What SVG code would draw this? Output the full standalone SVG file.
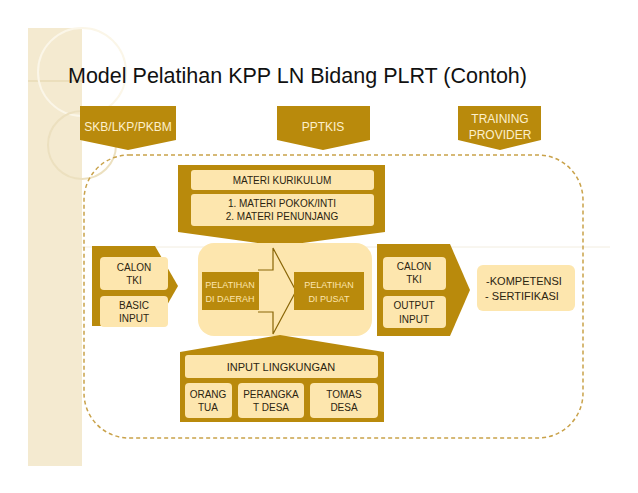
<svg xmlns="http://www.w3.org/2000/svg" width="638" height="493" viewBox="0 0 638 493">
<style>
.d{fill:#b98a0c}
.l{fill:#fde6ae}
text{font-family:"Liberation Sans","DejaVu Sans",sans-serif;text-anchor:middle}
.w{fill:#fdf0cc;font-size:12px}
.k{fill:#2b2410;font-size:10px}
.p{fill:#fde6ae;font-size:9px}
</style>
<rect width="638" height="493" fill="#ffffff"/>
<g id="decor">
<rect x="28" y="28" width="54" height="438" fill="#f4ead0"/>
<line x1="28" y1="81" x2="82" y2="81" stroke="#e2d3a8"/>
<circle cx="82" cy="72" r="44" fill="none" stroke="#fbf6e8" stroke-width="2"/>
<circle cx="82" cy="145" r="34" fill="none" stroke="#ece0bf" stroke-width="2"/>
<line x1="82" y1="247" x2="610" y2="247" stroke="#f2ede0"/>
</g>
<text x="68" y="83" style="font-size:22px;text-anchor:start;fill:#111" textLength="459" lengthAdjust="spacingAndGlyphs">Model Pelatihan KPP LN Bidang PLRT (Contoh)</text>
<g id="skb"><path class="d" d="M80,106H176V140L128,150L80,140Z"/><text class="w" x="128" y="131">SKB/LKP/PKBM</text></g>
<g id="pptkis"><path class="d" d="M277,106H370V140L323,150L277,140Z"/><text class="w" x="323" y="131">PPTKIS</text></g>
<g id="training"><path class="d" d="M458,106H541V140L500,150L458,140Z"/><text class="w" x="500" y="123">TRAINING</text><text class="w" x="500" y="139">PROVIDER</text></g>
<g id="connectors"><rect x="84" y="155" width="499" height="283" rx="45" fill="none" stroke="#c9a24a" stroke-width="1.5" stroke-dasharray="4,3"/></g>
<g id="materi">
<path class="d" d="M178,165H385V232L280,246L178,232Z"/>
<rect class="l" x="191" y="170" width="183" height="20" rx="3"/>
<text class="k" x="282" y="184">MATERI KURIKULUM</text>
<rect class="l" x="191" y="194" width="183" height="32" rx="3"/>
<text class="k" x="282" y="207">1. MATERI POKOK/INTI</text>
<text class="k" x="282" y="220">2. MATERI PENUNJANG</text>
</g>
<g id="calon-in">
<path class="d" d="M92,246H155L178,286L155,326H92Z"/>
<rect class="l" x="100" y="257" width="68" height="33" rx="4"/>
<text class="k" x="134" y="271">CALON</text><text class="k" x="134" y="284">TKI</text>
<rect class="l" x="100" y="296" width="68" height="31" rx="4"/>
<text class="k" x="134" y="309">BASIC</text><text class="k" x="134" y="322">INPUT</text>
</g>
<g id="pelatihan">
<rect class="l" x="198" y="243" width="174" height="93" rx="16"/>
<path d="M258,270H273V248L296,291L273,334V312H258" fill="none" stroke="#8a6608" stroke-width="1.2"/>
<rect class="d" x="202" y="272" width="57" height="38"/>
<text class="p" x="230" y="288">PELATIHAN</text><text class="p" x="230" y="302">DI DAERAH</text>
<rect class="d" x="294" y="272" width="70" height="38"/>
<text class="p" x="329" y="288">PELATIHAN</text><text class="p" x="329" y="302">DI PUSAT</text>
</g>
<g id="calon-out">
<path class="d" d="M377,244H450L470,290L450,336H377Z"/>
<rect class="l" x="383" y="257" width="63" height="33" rx="4"/>
<text class="k" x="414" y="270">CALON</text><text class="k" x="414" y="283">TKI</text>
<rect class="l" x="383" y="296" width="63" height="32" rx="4"/>
<text class="k" x="414" y="309">OUTPUT</text><text class="k" x="414" y="323">INPUT</text>
</g>
<g id="kompetensi">
<rect class="l" x="477" y="265" width="98" height="46" rx="6"/>
<text class="k" x="524" y="285" style="font-size:11px">-KOMPETENSI</text>
<text class="k" x="522" y="300" style="font-size:11px">- SERTIFIKASI</text>
</g>
<g id="lingkungan">
<path class="d" d="M180,352L280,335L384,352V422H180Z"/>
<rect class="l" x="185" y="355" width="193" height="23" rx="3"/>
<text class="k" x="281" y="371" style="font-size:11px">INPUT LINGKUNGAN</text>
<rect class="l" x="185" y="383" width="47" height="35" rx="4"/>
<text class="k" x="208" y="398">ORANG</text><text class="k" x="208" y="411">TUA</text>
<rect class="l" x="238" y="383" width="66" height="35" rx="4"/>
<text class="k" x="271" y="398">PERANGKA</text><text class="k" x="271" y="411">T DESA</text>
<rect class="l" x="310" y="383" width="68" height="35" rx="4"/>
<text class="k" x="344" y="398">TOMAS</text><text class="k" x="344" y="411">DESA</text>
</g>
</svg>
